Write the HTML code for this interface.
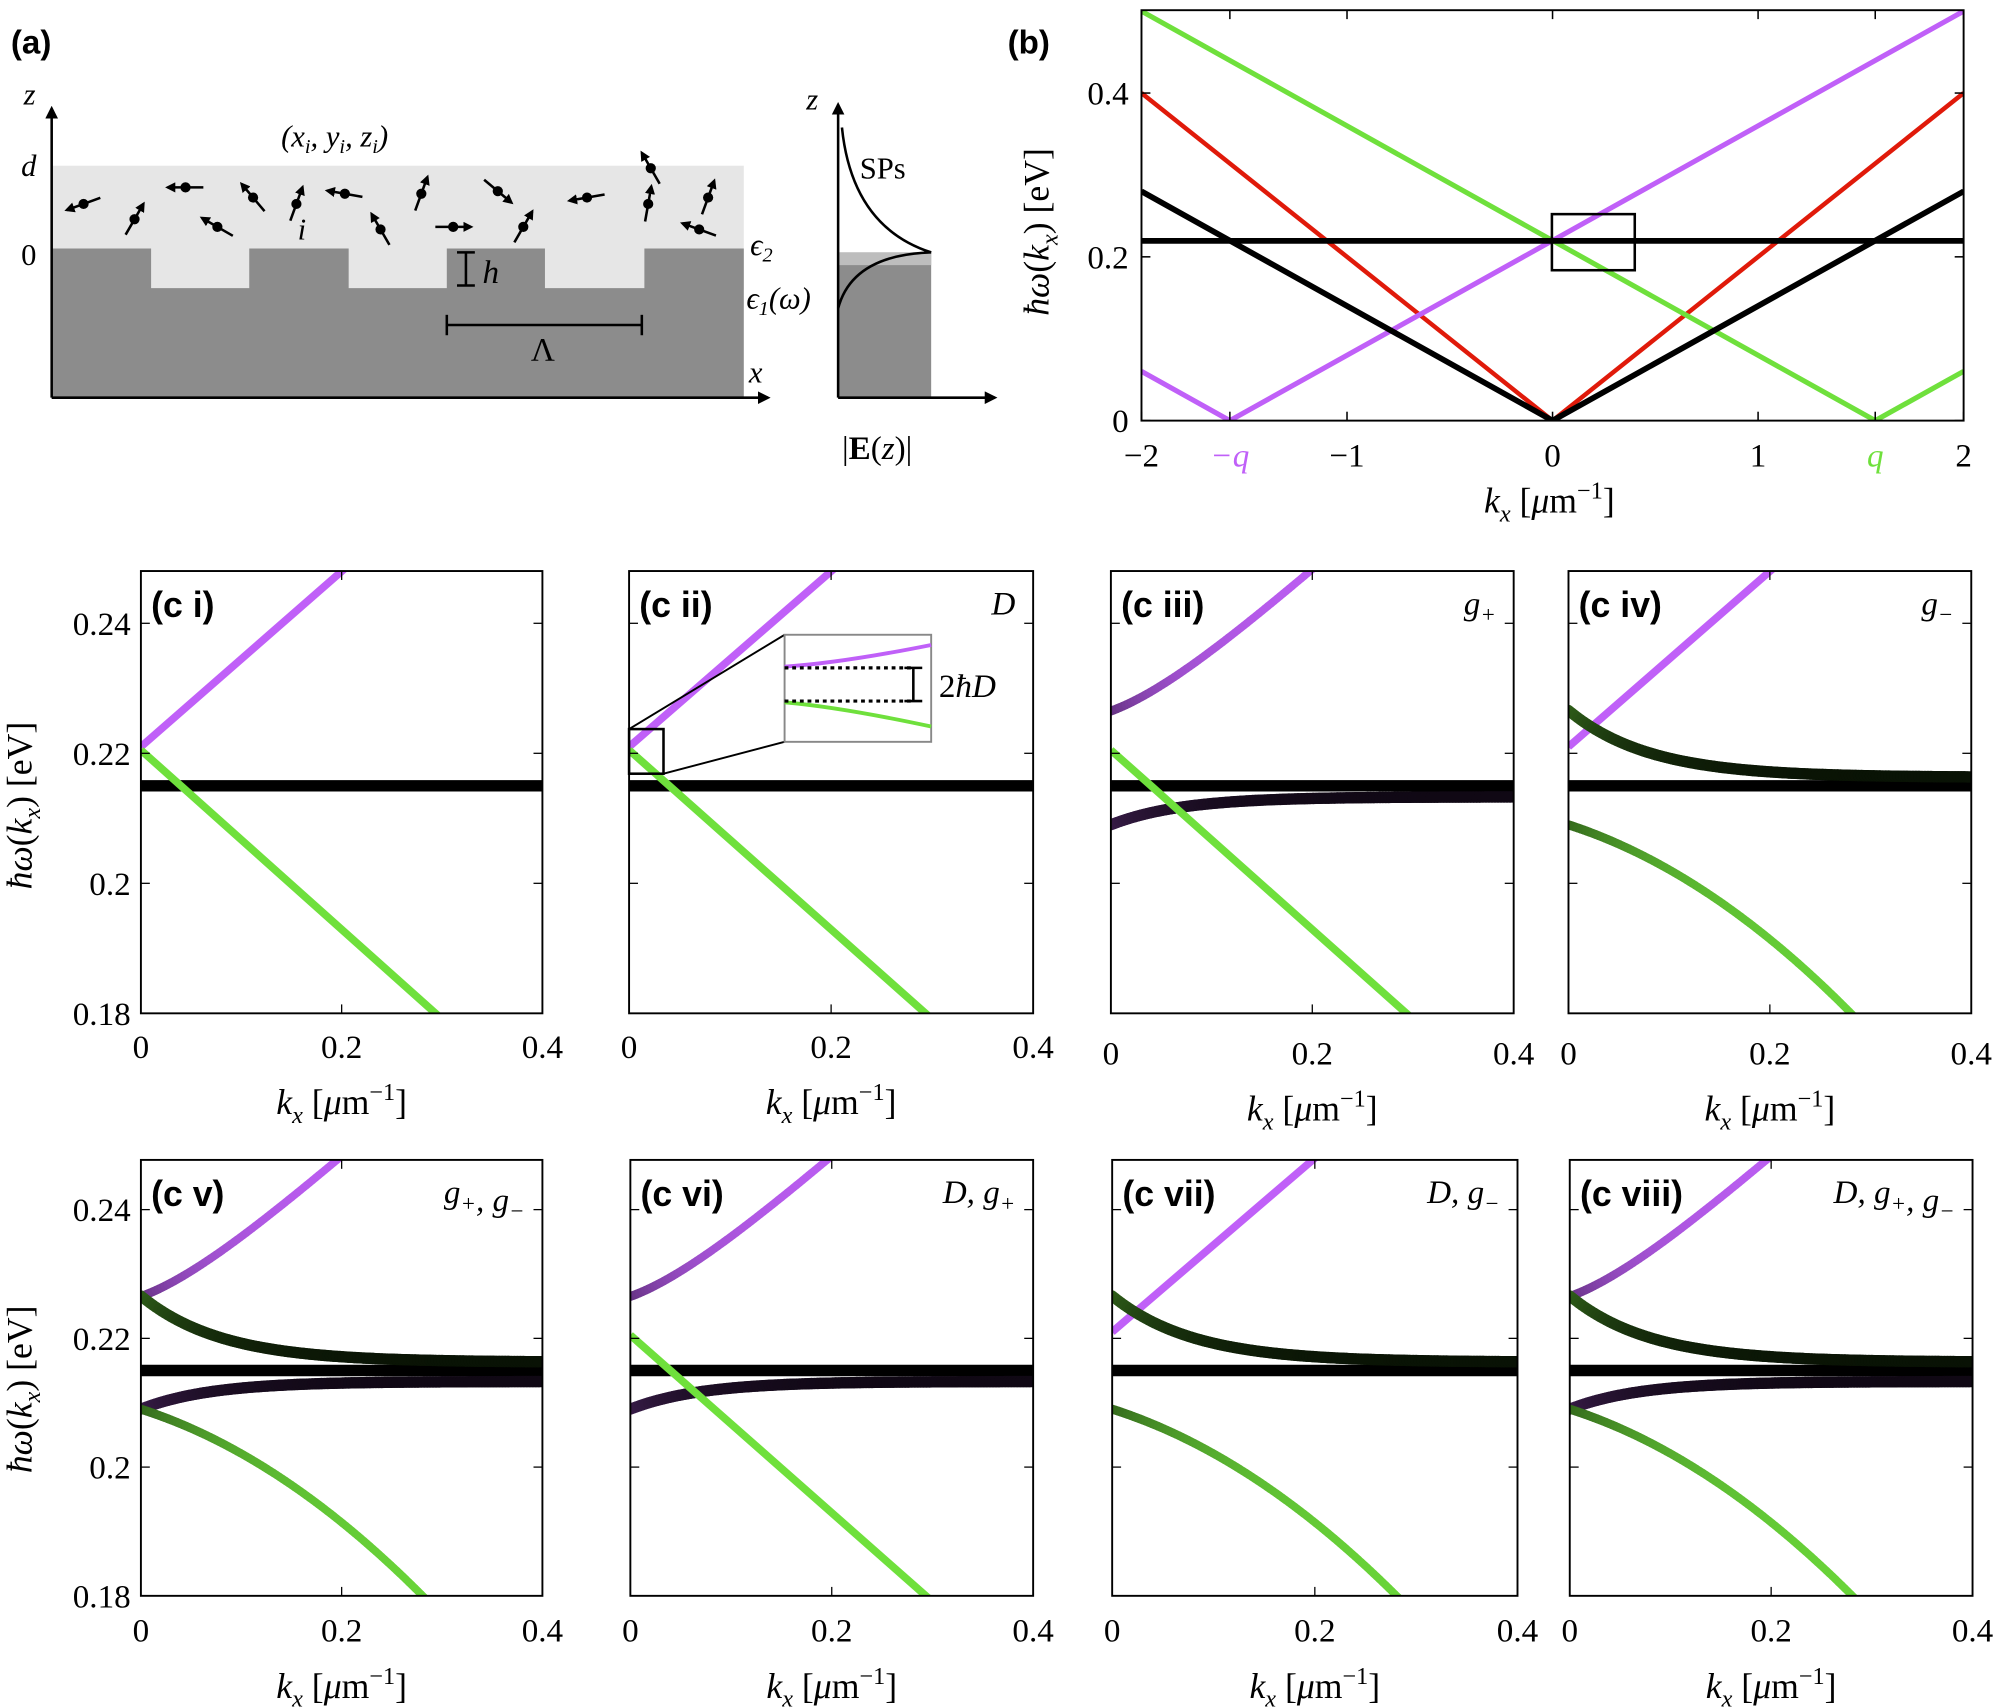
<!DOCTYPE html>
<html><head><meta charset="utf-8"><style>
html,body{margin:0;padding:0;background:#fff}
svg{display:block}
text{font-family:"Liberation Serif",serif;fill:#000}
.b{font-family:"Liberation Sans",sans-serif;font-weight:bold}
.i{font-style:italic}
</style></head><body>
<svg id="s" width="2000" height="1708" viewBox="0 0 1568 1340" xmlns="http://www.w3.org/2000/svg">
<defs>
<marker id="ar" markerWidth="10" markerHeight="10" refX="8" refY="5" orient="auto" markerUnits="userSpaceOnUse"><path d="M0,0 L10,5 L0,10 z" fill="#000"/></marker>
<marker id="ar2" markerWidth="8" markerHeight="8" refX="6" refY="4" orient="auto" markerUnits="userSpaceOnUse"><path d="M0,0 L8,4 L0,8 z" fill="#000"/></marker>
</defs>
<text x="8" y="42" class="b" font-size="26">(a)</text>
<rect x="40" y="130" width="543" height="97" fill="#e6e6e6"/>
<path d="M40,195 H118 V226 H195 V195 H273 V226 H350 V195 H427 V226 H505 V195 H583 V312 H40 Z" fill="#8c8c8c"/>
<line x1="40" y1="312" x2="40" y2="85" stroke="#000" stroke-width="2" marker-end="url(#ar)"/>
<line x1="40" y1="312" x2="602" y2="312" stroke="#000" stroke-width="2" marker-end="url(#ar)"/>
<text x="18" y="82" font-size="24" class="i">z</text>
<text x="16" y="138" font-size="24" class="i">d</text>
<text x="16" y="208" font-size="24">0</text>
<text x="220" y="115" font-size="24" class="i">(x<tspan font-size="16" dy="5">i</tspan><tspan dy="-5">, y</tspan><tspan font-size="16" dy="5">i</tspan><tspan dy="-5">, z</tspan><tspan font-size="16" dy="5">i</tspan><tspan dy="-5">)</tspan></text>
<text x="233" y="188" font-size="24" class="i">i</text>
<text x="588" y="200" font-size="24" class="i">ϵ<tspan font-size="16" dy="5">2</tspan></text>
<text x="585" y="242" font-size="24" class="i">ϵ<tspan font-size="16" dy="5">1</tspan><tspan dy="-5">(ω)</tspan></text>
<line x1="365" y1="198" x2="365" y2="224" stroke="#000" stroke-width="2"/>
<line x1="358" y1="198" x2="372" y2="198" stroke="#000" stroke-width="2"/>
<line x1="358" y1="224" x2="372" y2="224" stroke="#000" stroke-width="2"/>
<text x="378" y="222" font-size="26" class="i">h</text>
<line x1="350" y1="255" x2="503" y2="255" stroke="#000" stroke-width="2"/>
<line x1="350" y1="247" x2="350" y2="263" stroke="#000" stroke-width="2"/>
<line x1="503" y1="247" x2="503" y2="263" stroke="#000" stroke-width="2"/>
<text x="416" y="283" font-size="26">Λ</text>
<text x="587" y="300" font-size="24" class="i">x</text>
<g id="dip"></g>
<rect x="657" y="198" width="73" height="114" fill="#8c8c8c"/>
<rect x="657" y="198" width="73" height="10" fill="#bdbdbd"/>
<path d="M660,100 Q668,178 730,198" fill="none" stroke="#000" stroke-width="2"/>
<path d="M657,242 Q668,200 730,198" fill="none" stroke="#000" stroke-width="2"/>
<line x1="657" y1="312" x2="657" y2="82" stroke="#000" stroke-width="2" marker-end="url(#ar)"/>
<line x1="657" y1="312" x2="780" y2="312" stroke="#000" stroke-width="2" marker-end="url(#ar)"/>
<text x="632" y="86" font-size="24" class="i">z</text>
<text x="674" y="140" font-size="24">SPs</text>
<text x="660" y="360" font-size="26">|<tspan font-weight="bold">E</tspan>(<tspan class="i">z</tspan>)|</text>
<text x="790" y="42" class="b" font-size="26">(b)</text>
<g id="pb"></g>
<g id="pc"></g>
</svg>
<script>
var NS="http://www.w3.org/2000/svg";
function el(p,t,a,txt){var e=document.createElementNS(NS,t);for(var k in a)e.setAttribute(k,a[k]);if(txt!=null)e.textContent=txt;p.appendChild(e);return e;}
var D=document.getElementById('dip');
var dips=[[65,160,160],[105,172,-60],[145,147,180],[170,178,210],[198,155,-130],[232,160,-70],[270,152,190],[298,180,240],[330,152,-70],[355,178,0],[390,150,40],[410,178,-60],[460,155,170],[508,160,-80],[510,132,240],[548,180,200],[555,155,-70]];
dips.forEach(function(d){var a=d[2]*Math.PI/180,L=14;var x1=d[0]-L*Math.cos(a),y1=d[1]-L*Math.sin(a),x2=d[0]+L*Math.cos(a),y2=d[1]+L*Math.sin(a);
el(D,'line',{x1:x1,y1:y1,x2:x2,y2:y2,stroke:'#000','stroke-width':2,'marker-end':'url(#ar2)'});el(D,'circle',{cx:d[0],cy:d[1],r:4,fill:'#000'});});
var B=document.getElementById('pb');
var bx0=895,bx1=1540,by0=330,byt=8;
function bX(k){return 1217.5+k*161.25;}function bY(e){return 330-e*642.5;}
el(B,'clipPath',{id:'cb'});el(B.lastChild,'rect',{x:bx0,y:byt,width:bx1-bx0,height:by0-byt});
var g=el(B,'g',{'clip-path':'url(#cb)'});
function pl(par,pts,c,w){el(par,'polyline',{points:pts.map(function(p){return p.join(',')}).join(' '),fill:'none',stroke:c,'stroke-width':w,'stroke-linejoin':'round'});}
var q=1.57,sl=0.5/(2+q);
pl(g,[[bX(-2),bY(0.4)],[bX(0),bY(0)],[bX(2),bY(0.4)]],'#e01a0a',3.5);
pl(g,[[bX(-2),bY(0.5)],[bX(q),bY(0)],[bX(2),bY(sl*(2-q))]],'#6fe03c',4);
pl(g,[[bX(-2),bY(sl*(2-q))],[bX(-q),bY(0)],[bX(2),bY(0.5)]],'#c060f8',4);
pl(g,[[bX(-2),bY(0.28)],[bX(0),bY(0)],[bX(2),bY(0.28)]],'#000',4.5);
el(g,'line',{x1:bx0,y1:189,x2:bx1,y2:189,stroke:'#000','stroke-width':4.5});
el(B,'rect',{x:1217,y:168,width:65,height:44,fill:'none',stroke:'#000','stroke-width':2});
el(B,'rect',{x:bx0,y:byt,width:bx1-bx0,height:by0-byt,fill:'none',stroke:'#000','stroke-width':1.5});
[-2,-1.57,-1,0,1,1.57,2].forEach(function(k){el(B,'line',{x1:bX(k),y1:by0,x2:bX(k),y2:by0-7,stroke:'#000','stroke-width':1.2});el(B,'line',{x1:bX(k),y1:byt,x2:bX(k),y2:byt+7,stroke:'#000','stroke-width':1.2});});
[0,0.2,0.4].forEach(function(e){el(B,'line',{x1:bx0,y1:bY(e),x2:bx0+7,y2:bY(e),stroke:'#000','stroke-width':1.2});el(B,'line',{x1:bx1,y1:bY(e),x2:bx1-7,y2:bY(e),stroke:'#000','stroke-width':1.2});});
el(B,'text',{x:885,y:bY(0.4)+9,'font-size':26,'text-anchor':'end'},'0.4');
el(B,'text',{x:885,y:bY(0.2)+9,'font-size':26,'text-anchor':'end'},'0.2');
el(B,'text',{x:885,y:bY(0)+9,'font-size':26,'text-anchor':'end'},'0');
[[-2,'−2','#000'],[-1.57,'−q','#c060f8'],[-1,'−1','#000'],[0,'0','#000'],[1,'1','#000'],[1.57,'q','#6fe03c'],[2,'2','#000']].forEach(function(t){var e=el(B,'text',{x:bX(t[0]),y:366,'font-size':26,'text-anchor':'middle',fill:t[2]},t[1]);if(Math.abs(t[0])==1.57)e.setAttribute('font-style','italic');e.style.fill=t[2];});
var tb=el(B,'text',{x:1215,y:402,'font-size':28,'text-anchor':'middle'});tb.innerHTML='<tspan font-style="italic">k</tspan><tspan font-style="italic" font-size="19" dy="7">x</tspan><tspan dy="-7"> [</tspan><tspan font-style="italic">μ</tspan><tspan>m</tspan><tspan font-size="19" dy="-11">−1</tspan><tspan dy="11">]</tspan>';
var yb=el(B,'text',{x:0,y:0,'font-size':28,'text-anchor':'middle',transform:'translate(822,182) rotate(-90)'});yb.innerHTML='<tspan font-style="italic">ħω</tspan>(<tspan font-style="italic">k</tspan><tspan font-style="italic" font-size="19" dy="7">x</tspan><tspan dy="-7">) [eV]</tspan>';
var C=document.getElementById('pc');
var cols1=[[110,425],[493,810],[871,1187],[1230,1546]],cols2=[[110,425],[494,810],[872,1190],[1231,1547]];
var labs=['(c i)','(c ii)','(c iii)','(c iv)','(c v)','(c vi)','(c vii)','(c viii)'];
var ann=['','D','g+','g−','g+,g−','D,g+','D,g−','D,g+,g−'];
var PUR=[192,96,248],GRN=[111,224,60];
function mix(c,f){return 'rgb('+Math.round(c[0]*f)+','+Math.round(c[1]*f)+','+Math.round(c[2]*f)+')';}
function Pk(k){return 0.221+0.135*k;}function Gk(k){return 0.2205-0.138*k;}
for(var n=0;n<8;n++){
 var row=n<4?0:1,cc=(row?cols2:cols1)[n%4];
 var x0=cc[0],x1=cc[1],yb0=row?1252:795,sc=row?5050:5100,yt=row?910:448;
 var X=function(k){return x0+k/0.4*(x1-x0);},Y=function(e){return yb0-(e-0.18)*sc;};
 var cp=el(C,'clipPath',{id:'cp'+n});el(cp,'rect',{x:x0,y:yt,width:x1-x0,height:yb0-yt});
 var G=el(C,'g',{'clip-path':'url(#cp'+n+')'});
 var gp=(n==2||n==4||n==5||n==7),gm=(n==3||n==4||n==6||n==7);
 el(G,'line',{x1:x0,y1:Y(0.215),x2:x1,y2:Y(0.215),stroke:'#000','stroke-width':9});
 function curve(fe,ff,col,w0,w1){var prev=null;
  for(var k=0;k<=0.4001;k+=0.003){var e=fe(k),f=ff(k);var pt=[X(k),Y(e)];
   if(prev){el(G,'line',{x1:prev[0],y1:prev[1],x2:pt[0],y2:pt[1],stroke:mix(col,f),'stroke-width':w0+(w1-w0)*(1-f),'stroke-linecap':'round'});}
   prev=pt;}}
 function ex(k){return Math.exp(-k/0.07);}
 function straight(phot,col){pl(G,[[X(0),Y(phot(0))],[X(0.4),Y(phot(0.4))]],'rgb('+col.join(',')+')',6);}
 if(gp){
  curve(function(k){return Pk(k)+0.0055*ex(k);},function(k){return 1-0.5*ex(k);},PUR,6,8);
  curve(function(k){return 0.2133-0.0043*ex(k);},function(k){return 0.08+0.22*ex(k);},PUR,8,9);
 } else straight(Pk,PUR);
 if(gm){
  curve(function(k){return 0.2163+0.0103*Math.exp(-k/0.08);},function(k){return 0.08+0.35*ex(k);},GRN,8,9);
  curve(function(k){return 0.209-0.05*k-0.19*k*k;},function(k){return 1-0.55*Math.exp(-k/0.12);},GRN,6,8);
 } else straight(Gk,GRN);
 el(C,'rect',{x:x0,y:yt,width:x1-x0,height:yb0-yt,fill:'none',stroke:'#000','stroke-width':1.5});
 [0.2].forEach(function(k){el(C,'line',{x1:X(k),y1:yb0,x2:X(k),y2:yb0-7,stroke:'#000'});el(C,'line',{x1:X(k),y1:yt,x2:X(k),y2:yt+7,stroke:'#000'});});
 [0.2,0.22,0.24].forEach(function(e){el(C,'line',{x1:x0,y1:Y(e),x2:x0+7,y2:Y(e),stroke:'#000'});el(C,'line',{x1:x1,y1:Y(e),x2:x1-7,y2:Y(e),stroke:'#000'});});
 var ly=yb0+(row?36:35)+((n==2||n==3)?5:0);
 el(C,'text',{x:X(0),y:ly,'font-size':26,'text-anchor':'middle'},'0');
 el(C,'text',{x:X(0.2),y:ly,'font-size':26,'text-anchor':'middle'},'0.2');
 el(C,'text',{x:X(0.4),y:ly,'font-size':26,'text-anchor':'middle'},'0.4');
 var t=el(C,'text',{x:(x0+x1)/2,y:ly+44,'font-size':28,'text-anchor':'middle'});t.innerHTML='<tspan font-style="italic">k</tspan><tspan font-style="italic" font-size="19" dy="7">x</tspan><tspan dy="-7"> [</tspan><tspan font-style="italic">μ</tspan><tspan>m</tspan><tspan font-size="19" dy="-11">−1</tspan><tspan dy="11">]</tspan>';
 el(C,'text',{x:x0+8,y:yt+36,'font-size':28,'class':'b'},labs[n]);
 var a=ann[n];if(a){var tt=el(C,'text',{x:x1-14,y:yt+34,'font-size':26,'text-anchor':'end','font-style':'italic'});
  tt.innerHTML=a.replace(/g([+−])/g,'g<tspan font-size="18" dy="6">$1</tspan><tspan dy="-6"></tspan>').replace(/,/g,', ');}
 if(n%4==0){
  [[0.18,'0.18'],[0.2,'0.2'],[0.22,'0.22'],[0.24,'0.24']].forEach(function(v){el(C,'text',{x:102,y:Y(v[0])+9,'font-size':26,'text-anchor':'end'},v[1]);});
  var yl=el(C,'text',{'font-size':28,'text-anchor':'middle',transform:'translate(24,'+(row?1090:632)+') rotate(-90)'});yl.innerHTML='<tspan font-style="italic">ħω</tspan>(<tspan font-style="italic">k</tspan><tspan font-style="italic" font-size="19" dy="7">x</tspan><tspan dy="-7">) [eV]</tspan>';
 }
}
var I=C;
el(I,'rect',{x:493,y:572,width:27,height:35,fill:'none',stroke:'#000','stroke-width':2});
el(I,'line',{x1:493,y1:572,x2:615,y2:498,stroke:'#000','stroke-width':1.5});
el(I,'line',{x1:520,y1:607,x2:615,y2:582,stroke:'#000','stroke-width':1.5});
el(I,'rect',{x:615,y:498,width:115,height:84,fill:'#fff',stroke:'#888','stroke-width':1.5});
el(I,'path',{d:'M615,523 Q660,520 730,506',fill:'none',stroke:'#c060f8','stroke-width':3});
el(I,'path',{d:'M615,551 Q660,555 730,570',fill:'none',stroke:'#6fe03c','stroke-width':3});
el(I,'line',{x1:615,y1:524,x2:715,y2:524,stroke:'#000','stroke-width':2.5,'stroke-dasharray':'3,3'});
el(I,'line',{x1:615,y1:550,x2:715,y2:550,stroke:'#000','stroke-width':2.5,'stroke-dasharray':'3,3'});
el(I,'line',{x1:716,y1:524,x2:716,y2:550,stroke:'#000','stroke-width':2});
el(I,'line',{x1:709,y1:524,x2:723,y2:524,stroke:'#000','stroke-width':2});
el(I,'line',{x1:709,y1:550,x2:723,y2:550,stroke:'#000','stroke-width':2});
var tx=el(I,'text',{x:736,y:547,'font-size':26});tx.innerHTML='2<tspan font-style="italic">ħD</tspan>';
</script>
</body></html>
